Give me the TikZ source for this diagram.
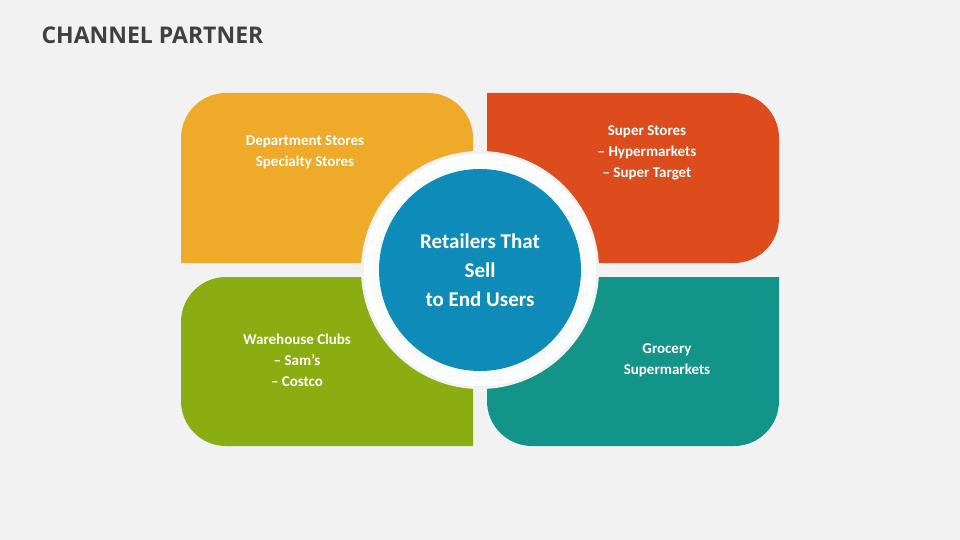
\documentclass[tikz,border=0pt]{standalone}
\usepackage{fontspec}
\setmainfont{Carlito}
\newfontfamily\titlefont{Open Sans}
\definecolor{bg}{HTML}{F2F2F2}
\definecolor{cA}{HTML}{EFAA2A}
\definecolor{cB}{HTML}{DC4C1C}
\definecolor{cC}{HTML}{8AAE12}
\definecolor{cD}{HTML}{139488}
\definecolor{cblue}{HTML}{0E8BB8}
\definecolor{ring}{HTML}{BFE3EE}
\definecolor{ttl}{HTML}{404040}
\tikzset{lbl/.style={text=white,align=center,font=\fontsize{15}{21}\selectfont\bfseries}}
\begin{document}
\begin{tikzpicture}[x=1pt,y=-1pt]
\fill[bg] (0,0) rectangle (960,540);
\useasboundingbox (0,0) rectangle (960,540);
\node[anchor=west,text=ttl,font=\titlefont\fontsize{23}{26}\selectfont\bfseries] (title) at (38,35) {CHANNEL PARTNER};
\fill[cA] (181,263) [rounded corners=45] -- (181,93) -- (473,93) [sharp corners] -- (473,263) -- cycle;
\fill[cB] (487,93) [rounded corners=45] -- (779,93) -- (779,263) [sharp corners] -- (487,263) -- cycle;
\fill[cC] (473,446) [rounded corners=45] -- (181,446) -- (181,277) [sharp corners] -- (473,277) -- cycle;
\fill[cD] (487,277) -- (779,277) [rounded corners=45] -- (779,446) -- (487,446) [sharp corners] -- cycle;
\node[lbl] (tl) at (305,152) {Department Stores\\Specialty Stores};
\node[lbl] (tr) at (647,153) {Super Stores\\-- Hypermarkets\\-- Super Target};
\node[lbl] (bl) at (297,360) {Warehouse Clubs\\-- Sam’s\\-- Costco};
\node[lbl] (br) at (667,360) {Grocery\\Supermarkets};
\fill[bg] (480,270) circle (119);
\shade[inner color=ring,outer color=white] (480,270) circle (116);
\fill[cblue] (480,270) circle (101);
\node[text=white,align=center,font=\fontsize{21}{29}\selectfont\bfseries] (c) at (480,270) {Retailers That\\Sell\\to End Users};
\end{tikzpicture}
\end{document}
